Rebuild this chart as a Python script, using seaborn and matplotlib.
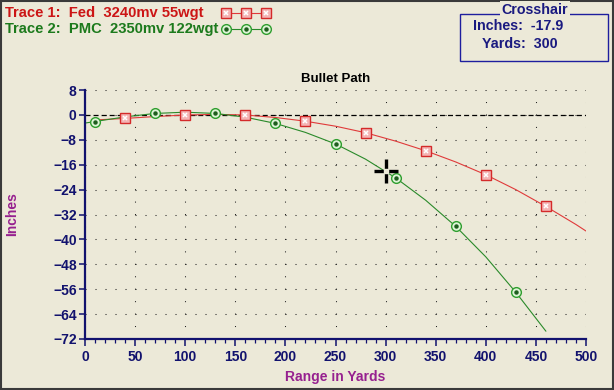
import numpy as np
import pandas as pd
import matplotlib
matplotlib.use("Agg")
import matplotlib.pyplot as plt
import seaborn as sns
from matplotlib.patches import Rectangle
from matplotlib.lines import Line2D
from matplotlib.ticker import MultipleLocator

# ---------------- data ----------------
fed_x = [10, 40, 70, 100, 130, 160, 190, 220, 250, 280, 310, 340, 370, 400, 430, 460, 490, 500]
fed_y = [-1.6, -1.1, -0.5, 0.0, 0.2, 0.0, -0.8, -2.0, -3.6, -5.7, -8.4, -11.5, -15.1, -19.2, -24.0, -29.4, -35.2, -37.3]
fed_marker_x = [40, 100, 160, 220, 280, 340, 400, 460]
fed_marker_y = [-1.1, 0.0, 0.0, -2.0, -5.7, -11.5, -19.2, -29.4]

pmc_x = [0, 10, 40, 70, 100, 130, 160, 190, 220, 250, 280, 310, 340, 370, 400, 430, 460]
pmc_y = [-2.6, -2.1, -0.6, 0.5, 0.9, 0.5, -0.7, -2.7, -5.6, -9.3, -14.2, -20.2, -27.4, -35.8, -45.6, -57.0, -69.5]
pmc_marker_x = [10, 70, 130, 190, 250, 310, 370, 430]
pmc_marker_y = [-2.1, 0.5, 0.5, -2.7, -9.3, -20.2, -35.8, -57.0]

x_ticks = [0, 50, 100, 150, 200, 250, 300, 350, 400, 450, 500]
y_ticks = [8, 0, -8, -16, -24, -32, -40, -48, -56, -64, -72]

trace1_label = "Trace 1:  Fed  3240mv 55wgt"
trace2_label = "Trace 2:  PMC  2350mv 122wgt"
cross_inches = -17.9
cross_yards = 300

# ---------------- style ----------------
sns.set_theme(style="white")
plt.rcParams["font.family"] = ["Liberation Sans", "DejaVu Sans"]
plt.rcParams["font.weight"] = "bold"
plt.rcParams["lines.scale_dashes"] = False

BG = "#ECE9D8"
NAVY = "#12126E"
PURPLE = "#96208F"
RED_TXT = "#CC1515"
GRN_TXT = "#1C7A1C"
RED_LN = "#E03A3A"
GRN_LN = "#2A8A2A"
BOX = "#1E1E9E"

fig = plt.figure(figsize=(6.14, 3.90), dpi=100, facecolor=BG)
L, R, T, B = 85, 586, 90.1, 339
ax = fig.add_axes([L / 614, 1 - B / 390, (R - L) / 614, (B - T) / 390])
ax.set_facecolor(BG)

fed = pd.DataFrame({"Range": fed_x, "Inches": fed_y})
pmc = pd.DataFrame({"Range": pmc_x, "Inches": pmc_y})

# grid
ax.set_xlim(0, 500)
ax.set_ylim(-72, 8)
ax.set_xticks(x_ticks)
ax.set_yticks(y_ticks)
ax.xaxis.set_minor_locator(MultipleLocator(10))
ax.xaxis.grid(True, which="major", linestyle=(0, (0.75, 8.21)), color="#222222", lw=0.75)
ax.yaxis.grid(True, which="major", linestyle=(0, (0.75, 6.45)), color="#222222", lw=0.75)
ax.set_axisbelow(True)
ax.axhline(0, color="black", lw=0.9, linestyle=(0, (3.6, 2.2)), zorder=1.5)

sns.lineplot(data=fed, x="Range", y="Inches", ax=ax, color=RED_LN, lw=0.8, zorder=2)
sns.lineplot(data=pmc, x="Range", y="Inches", ax=ax, color=GRN_LN, lw=0.8, zorder=2)

ax.plot(fed_marker_x, fed_marker_y, ls="none", marker="s", ms=7, mfc="#F4B4B4", mec="#D42A2A", mew=1.0, zorder=3)
ax.plot(fed_marker_x, fed_marker_y, ls="none", marker="x", ms=3.5, mec="white", mew=1.1, zorder=4)
ax.plot(pmc_marker_x, pmc_marker_y, ls="none", marker="o", ms=7, mfc="#DDF3D6", mec="#2E9E2E", mew=1.0, zorder=3)
ax.plot(pmc_marker_x, pmc_marker_y, ls="none", marker="o", ms=2.2, mfc="#1E5E1E", mec="#1E5E1E", zorder=4)

# crosshair
ax.plot([cross_yards], [cross_inches], ls="none", marker="+", ms=17, mec="black", mew=2.4, zorder=5)
ax.plot([cross_yards], [cross_inches], ls="none", marker="s", ms=3.5, mfc=BG, mec=BG, zorder=6)

# spines & ticks
for s in ["top", "right"]:
    ax.spines[s].set_visible(False)
for s in ["left", "bottom"]:
    ax.spines[s].set_color(NAVY)
    ax.spines[s].set_linewidth(1.6)
ax.tick_params(axis="y", which="major", direction="out", length=4, width=1.1, color=NAVY,
               labelsize=10, labelcolor=NAVY, pad=2, left=True)
ax.tick_params(axis="x", which="major", direction="out", length=5, width=1.1, color=NAVY,
               labelsize=10, labelcolor=NAVY, pad=3, bottom=True)
ax.tick_params(axis="x", which="minor", direction="out", length=3, width=0.9, color=NAVY, bottom=True)
for lab in ax.get_xticklabels() + ax.get_yticklabels():
    lab.set_fontweight("bold")

ax.set_xlabel("Range in Yards", color=PURPLE, fontsize=10, fontweight="bold")
ax.set_ylabel("Inches", color=PURPLE, fontsize=10, fontweight="bold")
ax.xaxis.set_label_coords(0.5, -0.152)
ax.xaxis.label.set_va("center")
ax.yaxis.set_label_coords(-0.146, 0.5)
ax.yaxis.label.set_va("center")
ax.set_title("Bullet Path", fontsize=9.5, fontweight="bold", color="black", pad=6)

# ---------------- overlay (pixel coords) ----------------
ov = fig.add_axes([0, 0, 1, 1], facecolor="none")
ov.set_xlim(0, 614)
ov.set_ylim(390, 0)
ov.axis("off")

ov.text(5, 12.5, trace1_label, color=RED_TXT, fontsize=10.6, fontweight="bold", va="center", ha="left")
ov.text(5, 28.5, trace2_label, color=GRN_TXT, fontsize=10.6, fontweight="bold", va="center", ha="left")
ov.add_line(Line2D([226, 266], [13, 13], color=RED_LN, lw=0.8))
ov.add_line(Line2D([226, 246, 266], [13, 13, 13], ls="none", marker="s", ms=7, mfc="#F4B4B4", mec="#D42A2A", mew=1.0))
ov.add_line(Line2D([226, 246, 266], [13, 13, 13], ls="none", marker="x", ms=3.5, mec="white", mew=1.1))
ov.add_line(Line2D([226, 266], [29, 29], color=GRN_LN, lw=0.8))
ov.add_line(Line2D([226, 246, 266], [29, 29, 29], ls="none", marker="o", ms=7, mfc="#DDF3D6", mec="#2E9E2E", mew=1.0))
ov.add_line(Line2D([226, 246, 266], [29, 29, 29], ls="none", marker="o", ms=2.2, mfc="#1E5E1E", mec="#1E5E1E"))

ov.add_patch(Rectangle((460, 14), 148, 47, fill=False, edgecolor=BOX, lw=1.0))
ov.text(535, 10.5, "Crosshair", color="#1A1A80", fontsize=10.3, fontweight="bold", va="center", ha="center",
        bbox=dict(facecolor=BG, edgecolor="none", pad=1.5))
ov.text(473, 26.5, f"Inches:  {cross_inches}", color="#1A1A80", fontsize=10.3, fontweight="bold", va="center", ha="left")
ov.text(482, 44.5, f"Yards:  {cross_yards}", color="#1A1A80", fontsize=10.3, fontweight="bold", va="center", ha="left")

# figure frame
ov.add_patch(Rectangle((0.5, 0.5), 612.5, 388.5, fill=False, edgecolor="#3A3A3A", lw=1.5))

fig.savefig("out.png", dpi=100, facecolor=BG)
